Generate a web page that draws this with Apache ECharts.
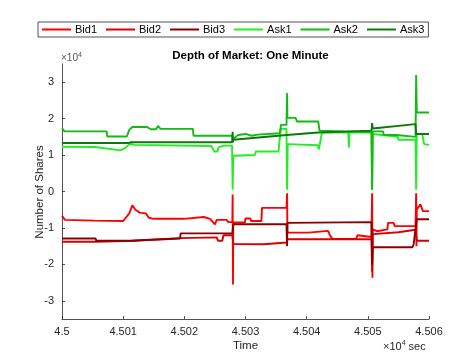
<!DOCTYPE html>
<html><head><meta charset="utf-8">
<script src="https://cdn.jsdelivr.net/npm/echarts@6/dist/echarts.min.js"></script>
<style>html,body{margin:0;padding:0;background:#fff}#c{width:474px;height:355px}</style>
</head><body><div id="c"></div>
<script>
const seriesNames = ['Bid1','Bid2','Bid3','Ask1','Ask2','Ask3'];
const seriesColors = ['#ff0000','#d80000','#8a0000','#22ee22','#11bb11','#0a7a0a'];
const xTickValues = [45000,45010,45020,45030,45040,45050,45060];
const xTickLabels = ['4.5','4.501','4.502','4.503','4.504','4.505','4.506'];
const yTickValues = [-30000,-20000,-10000,0,10000,20000,30000];
const yTickLabels = ['-3','-2','-1','0','1','2','3'];

const bid1 = [[45000,-6700],[45000.5,-7800],[45005.3,-8000],[45005.4,-8400],[45005.6,-8100],[45010.0,-8100],[45011.0,-6000],[45011.5,-3800],[45012.0,-5000],[45012.7,-5800],[45013.7,-6000],[45014.0,-5600],[45014.2,-7200],[45015.0,-7500],[45019.9,-7500],[45020.1,-7000],[45023.2,-7000],[45023.4,-7500],[45024.2,-7500],[45024.5,-8100],[45025.0,-9000],[45025.3,-7800],[45026.9,-7800],[45027.2,-8400],[45027.85,-8400],[45027.9,-800],[45027.95,-25500],[45028.0,-8500],[45029.9,-8500],[45030.0,-7400],[45030.8,-7400],[45030.9,-8100],[45032.6,-8100],[45032.7,-4500],[45036.7,-4500],[45036.8,-500],[45036.85,-11300],[45040.3,-11300],[45040.5,-10800],[45043.5,-10800],[45043.8,-12000],[45044.2,-13000],[45048.1,-13000],[45048.3,-12000],[45050.6,-12500],[45050.7,-500],[45050.75,-23700],[45050.8,-10400],[45051.5,-10900],[45053.2,-10400],[45053.3,-8600],[45054.2,-8600],[45054.4,-9500],[45057.8,-9500],[45057.9,-500],[45057.95,-15000],[45058.0,-5000],[45058.6,-3500],[45059.0,-5400],[45060,-5400]];
const bid2 = [[45000,-13800],[45005.5,-13800],[45005.6,-13500],[45011.4,-13500],[45011.6,-13100],[45019.3,-12800],[45019.5,-12600],[45025.3,-12600],[45025.5,-13500],[45026.2,-13500],[45026.4,-12000],[45027.85,-12000],[45028.0,-14400],[45033.0,-14500],[45036.7,-14000],[45036.85,-13100],[45050.6,-13100],[45050.7,-22000],[45050.8,-11700],[45055.0,-11200],[45057.8,-10500],[45058.0,-13500],[45060,-13500]];
const bid3 = [[45000,-12900],[45005.5,-12900],[45005.6,-13500],[45011.4,-13500],[45011.6,-13100],[45019.3,-12900],[45019.4,-11500],[45025.3,-11500],[45027.85,-11500],[45028.0,-9000],[45036.7,-9000],[45036.8,-15000],[45036.85,-8600],[45050.6,-8400],[45050.7,-20000],[45050.8,-15300],[45057.3,-15300],[45057.5,-14400],[45057.8,-14400],[45058.0,-7600],[45060,-7600]];
const ask1 = [[45000,12300],[45005.4,12200],[45005.5,11700],[45009.5,11300],[45010.3,11900],[45011.1,13100],[45011.8,12800],[45024.4,12500],[45024.9,11000],[45025.4,11000],[45025.6,12100],[45026.4,12600],[45027.8,12600],[45027.9,500],[45028.0,9800],[45031.5,10000],[45031.7,11000],[45035.4,11000],[45035.6,14500],[45035.8,17200],[45036.7,17200],[45036.8,500],[45036.9,13000],[45041.8,12700],[45042.0,11600],[45042.3,11600],[45042.5,16200],[45046.8,16200],[45046.9,12000],[45047.0,16200],[45050.6,16200],[45050.7,500],[45050.8,15800],[45054.9,15000],[45055.0,14200],[45057.8,14200],[45057.9,500],[45058.0,15800],[45058.9,15800],[45059.2,13000],[45060,12800]];
const ask2 = [[45000,17400],[45000.4,16500],[45007.3,16500],[45007.4,15100],[45010.6,15100],[45011.0,16900],[45011.5,17700],[45013.9,17700],[45014.5,17100],[45015.4,17100],[45015.7,18000],[45016.1,17200],[45021.4,17200],[45021.5,15300],[45027.8,15300],[45028.0,14500],[45028.8,15500],[45030.0,15800],[45031.0,15300],[45032.0,15600],[45032.3,16000],[45035.6,16000],[45035.8,18300],[45036.7,18300],[45036.8,27000],[45036.85,20200],[45038.2,20200],[45038.4,19200],[45041.9,19200],[45042.1,16700],[45046.0,16500],[45050.6,16300],[45050.7,500],[45050.8,16500],[45052.5,16500],[45052.6,15500],[45054.7,15500],[45054.8,15000],[45057.8,15000],[45057.9,32000],[45058.0,21700],[45060,21700]];
const ask3 = [[45000,13300],[45010.8,13300],[45011.2,13500],[45027.8,13500],[45027.9,16400],[45027.95,13500],[45028.0,14200],[45036.7,15500],[45036.8,15800],[45041.9,16200],[45050.6,16700],[45050.7,18800],[45050.8,17300],[45057.8,18500],[45057.9,15800],[45060,15800]];

const allData = [bid1,bid2,bid3,ask1,ask2,ask3];
const FONT = '"Liberation Sans", Arial, sans-serif';
const AX = '#262626';

const chart = echarts.init(document.getElementById('c'), null, {renderer:'canvas'});
chart.setOption({
  animation:false,
  backgroundColor:'#ffffff',
  title:{text:'Depth of Market: One Minute', left:245.5, top:45, textAlign:'center',
    textStyle:{fontFamily:FONT,fontSize:11.5,fontWeight:'bold',color:'#000'}},
  legend:{data:seriesNames.map(function(n){return {name:n, icon:'rect'};}), left:38, top:22, orient:'horizontal',
    itemWidth:29, itemHeight:2, itemGap:9, padding:[2,4,2,4],
    borderColor:AX, borderWidth:0.8, backgroundColor:'#fff',
    textStyle:{fontFamily:FONT,fontSize:11,color:'#000',padding:[0,0,0,-1]}},
  grid:{left:62, right:45, top:64, bottom:36, containLabel:false},
  xAxis:{type:'value', min:45000, max:45060, interval:10,
    axisLine:{show:true,onZero:false,lineStyle:{color:AX,width:0.8}},
    axisTick:{show:true,inside:true,length:3,lineStyle:{color:AX,width:0.8},customValues:xTickValues},
    axisLabel:{fontFamily:FONT,fontSize:11,color:AX,margin:7,customValues:xTickValues,
      formatter:function(v){const i=xTickValues.indexOf(v);return i>=0?xTickLabels[i]:'';}},
    splitLine:{show:false}},
  yAxis:{type:'value', min:-35000, max:35000,
    axisLine:{show:true,onZero:false,lineStyle:{color:AX,width:0.8}},
    axisTick:{show:true,inside:true,length:3,lineStyle:{color:AX,width:0.8},customValues:yTickValues},
    axisLabel:{fontFamily:FONT,fontSize:11,color:AX,margin:8,customValues:yTickValues,
      formatter:function(v){const i=yTickValues.indexOf(v);return i>=0?yTickLabels[i]:'';}},
    splitLine:{show:false}},
  graphic:[
    {type:'text', x:40, y:192, rotation:Math.PI/2, style:{text:'Number of Shares', fontFamily:FONT, fontSize:11.5, fill:AX, align:'center', verticalAlign:'middle'}},
    {type:'text', x:245.5, y:346, style:{text:'Time', fontFamily:FONT, fontSize:11.5, fill:AX, align:'center', verticalAlign:'middle'}},
    {type:'text', left:61, top:52, style:{rich:{a:{fontFamily:FONT,fontSize:10,fill:'#555'},b:{fontFamily:FONT,fontSize:7,fill:'#555',verticalAlign:'top',padding:[0,0,6,0]}},text:'{a|×10}{b|4}'}},
    {type:'text', left:383, top:340, style:{rich:{a:{fontFamily:FONT,fontSize:11,fill:AX},b:{fontFamily:FONT,fontSize:7,fill:AX,padding:[0,0,7,0]}},text:'{a|×10}{b|4}{a| sec}'}}
  ],
  series: seriesNames.map(function(n,i){return {
    name:n, type:'line', data:allData[i], showSymbol:false, symbol:'none',
    lineStyle:{width:1.9,color:seriesColors[i]}, itemStyle:{color:seriesColors[i]},
    clip:true, z:2};})
});
</script></body></html>
